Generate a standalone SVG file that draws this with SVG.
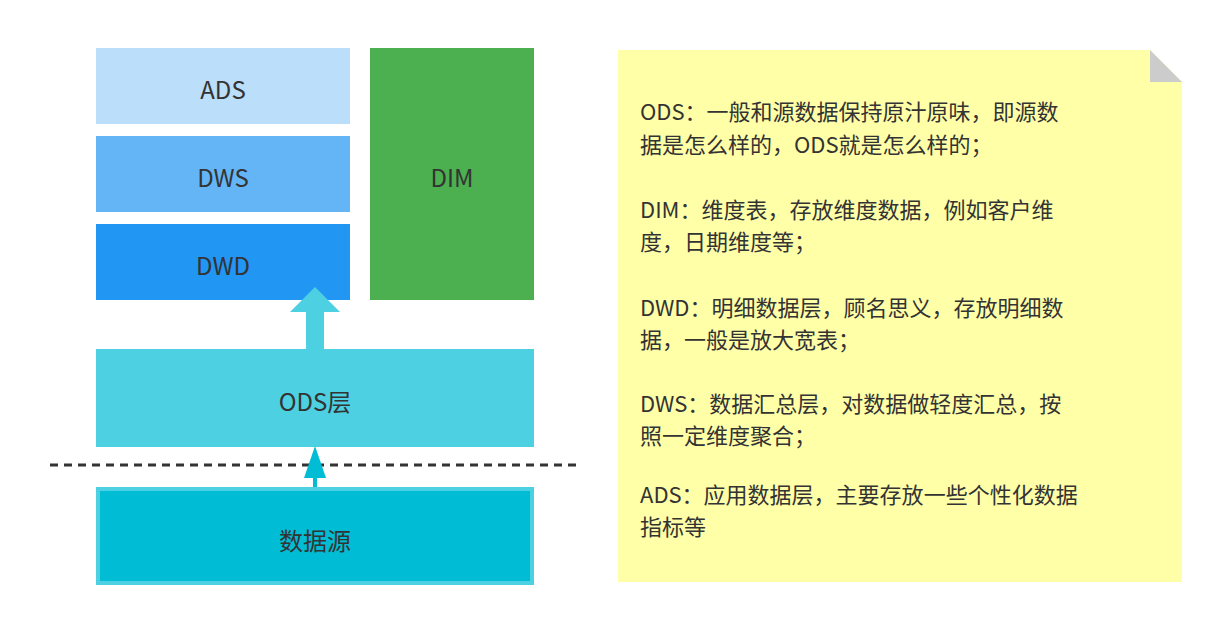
<svg xmlns="http://www.w3.org/2000/svg" width="1232" height="633" viewBox="0 0 1232 633">
<style>
text{font-family:"Noto Sans CJK SC","Noto Sans",sans-serif;fill:#333;font-size:24px}
.c{text-anchor:middle;dominant-baseline:central}
.n{font-size:22px}
</style>
<rect width="1232" height="633" fill="#fff"/>
<g id="ads"><rect x="96" y="48" width="254" height="76" fill="#bbdefb"/><text class="c" x="223" y="88">ADS</text></g>
<g id="dws"><rect x="96" y="136" width="254" height="76" fill="#64b5f6"/><text class="c" x="223" y="176">DWS</text></g>
<g id="dwd"><rect x="96" y="224" width="254" height="76" fill="#2196f3"/><text class="c" x="223" y="264">DWD</text></g>
<g id="dim"><rect x="370" y="48" width="164" height="252" fill="#4caf50"/><text class="c" x="452" y="176">DIM</text></g>
<g id="ods"><rect x="96" y="349" width="438" height="98" fill="#4dd0e1"/><text class="c" x="315" y="400">ODS层</text></g>
<g id="src"><rect x="98" y="489" width="434" height="94" fill="#00bcd4" stroke="#4dd0e1" stroke-width="4"/><text class="c" x="315" y="539">数据源</text></g>
<g id="connectors">
<line x1="50" y1="465" x2="582" y2="465" stroke="#333" stroke-width="3" stroke-dasharray="8,6"/>
<polygon points="315,287 340,312 324,312 324,349 306,349 306,312 290,312" fill="#4dd0e1"/>
<line x1="315" y1="487" x2="315" y2="470" stroke="#00bcd4" stroke-width="4"/>
<polygon points="315,446 326,478 304,478" fill="#00bcd4"/>
</g>
<g id="note">
<path d="M618,50 H1150 L1182,82 V582 H618 Z" fill="#ffffa8"/>
<path d="M1150,50 L1182,82 H1150 Z" fill="#ccc"/>
<text class="n" x="640" y="120">ODS：一般和源数据保持原汁原味，即源数</text>
<text class="n" x="640" y="153">据是怎么样的，ODS就是怎么样的；</text>
<text class="n" x="640" y="218">DIM：维度表，存放维度数据，例如客户维</text>
<text class="n" x="640" y="250">度，日期维度等；</text>
<text class="n" x="640" y="316">DWD：明细数据层，顾名思义，存放明细数</text>
<text class="n" x="640" y="348">据，一般是放大宽表；</text>
<text class="n" x="640" y="412">DWS：数据汇总层，对数据做轻度汇总，按</text>
<text class="n" x="640" y="444">照一定维度聚合；</text>
<text class="n" x="640" y="503">ADS：应用数据层，主要存放一些个性化数据</text>
<text class="n" x="640" y="535">指标等</text>
</g>
</svg>
